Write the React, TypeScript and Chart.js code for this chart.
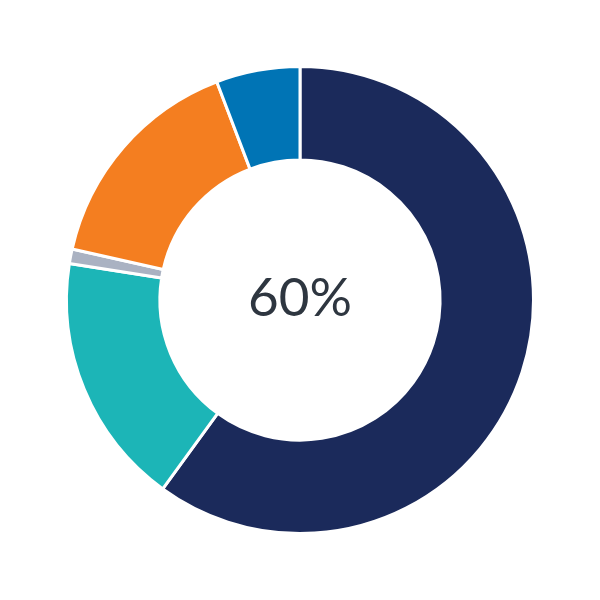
import { Chart, registerables } from 'chart.js';
import { useEffect, useRef } from 'react';

Chart.register(...registerables);

const labels = ['Navy', 'Teal', 'Gray', 'Orange', 'Blue'];
const values = [60, 17.5, 1, 15.7, 5.8];
const colors = ['#1b2a5b', '#1cb5b7', '#aab2c2', '#f47e20', '#0074b5'];
const centerText = '60%';

// Draws the big percentage in the hole
const centerLabel = {
  id: 'centerLabel',
  afterDraw(chart: Chart) {
    const meta = chart.getDatasetMeta(0);
    const arc = meta.data[0] as any;
    if (!arc) return;
    const ctx = chart.ctx;
    ctx.save();
    ctx.font = '400 53px Lato';
    ctx.fillStyle = '#2e3640';
    ctx.textAlign = 'center';
    ctx.textBaseline = 'middle';
    ctx.fillText(centerText, arc.x, arc.y - 1);
    ctx.restore();
  },
};

export default function App() {
  const chartRef = useRef<HTMLCanvasElement | null>(null);

  useEffect(() => {
    if (!chartRef.current) return;

    const chart = new Chart(chartRef.current, {
      type: 'doughnut',
      data: {
        labels,
        datasets: [
          {
            data: values,
            backgroundColor: colors,
            borderColor: '#ffffff',
            borderWidth: 3,
          },
        ],
      },
      options: {
        responsive: false,
        animation: false,
        cutout: '60%',
        layout: { padding: 65 },
        plugins: {
          legend: { display: false },
          tooltip: { enabled: false },
        },
      },
      plugins: [centerLabel],
    });

    return () => {
      chart.destroy();
    };
  }, []);

  return (
    <div style={{ position: 'absolute', left: 0, top: 0, width: 600, height: 600, background: '#fff' }}>
      <canvas ref={chartRef} width={600} height={600}></canvas>
    </div>
  );
}
